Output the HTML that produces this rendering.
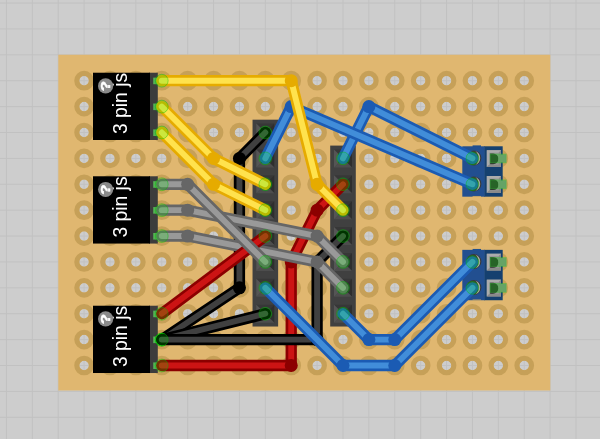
<!DOCTYPE html>
<html><head><meta charset="utf-8"><title>Breadboard</title>
<style>html,body{margin:0;padding:0;background:#cdcdcd;overflow:hidden}svg{display:block}</style>
</head><body>
<svg width="600" height="439" viewBox="0 0 600 439">
<defs><filter id="soft" x="0" y="0" width="100%" height="100%" filterUnits="userSpaceOnUse" color-interpolation-filters="sRGB"><feGaussianBlur stdDeviation="0.7" edgeMode="duplicate"/></filter></defs>
<g filter="url(#soft)">
<rect width="600" height="439" fill="#cdcdcd"/>
<path d="M6.43 0V439M32.32 0V439M58.21 0V439M84.10 0V439M109.99 0V439M135.88 0V439M161.77 0V439M187.66 0V439M213.55 0V439M239.44 0V439M265.33 0V439M291.22 0V439M317.11 0V439M343.00 0V439M368.89 0V439M394.78 0V439M420.67 0V439M446.56 0V439M472.45 0V439M498.34 0V439M524.23 0V439M550.12 0V439M576.01 0V439M0 3.05H600M0 28.94H600M0 54.83H600M0 80.72H600M0 106.61H600M0 132.50H600M0 158.39H600M0 184.28H600M0 210.17H600M0 236.06H600M0 261.95H600M0 287.84H600M0 313.73H600M0 339.62H600M0 365.51H600M0 391.40H600M0 417.29H600" stroke="#c1c1c1" stroke-width="1" fill="none"/>
<path d="M58.30 54.80h492.00v335.60h-492.00zM79.25 80.72a4.85 4.85 0 1 0 9.7 0a4.85 4.85 0 1 0 -9.7 0zM105.14 80.72a4.85 4.85 0 1 0 9.7 0a4.85 4.85 0 1 0 -9.7 0zM131.03 80.72a4.85 4.85 0 1 0 9.7 0a4.85 4.85 0 1 0 -9.7 0zM156.92 80.72a4.85 4.85 0 1 0 9.7 0a4.85 4.85 0 1 0 -9.7 0zM182.81 80.72a4.85 4.85 0 1 0 9.7 0a4.85 4.85 0 1 0 -9.7 0zM208.70 80.72a4.85 4.85 0 1 0 9.7 0a4.85 4.85 0 1 0 -9.7 0zM234.59 80.72a4.85 4.85 0 1 0 9.7 0a4.85 4.85 0 1 0 -9.7 0zM260.48 80.72a4.85 4.85 0 1 0 9.7 0a4.85 4.85 0 1 0 -9.7 0zM286.37 80.72a4.85 4.85 0 1 0 9.7 0a4.85 4.85 0 1 0 -9.7 0zM312.26 80.72a4.85 4.85 0 1 0 9.7 0a4.85 4.85 0 1 0 -9.7 0zM338.15 80.72a4.85 4.85 0 1 0 9.7 0a4.85 4.85 0 1 0 -9.7 0zM364.04 80.72a4.85 4.85 0 1 0 9.7 0a4.85 4.85 0 1 0 -9.7 0zM389.93 80.72a4.85 4.85 0 1 0 9.7 0a4.85 4.85 0 1 0 -9.7 0zM415.82 80.72a4.85 4.85 0 1 0 9.7 0a4.85 4.85 0 1 0 -9.7 0zM441.71 80.72a4.85 4.85 0 1 0 9.7 0a4.85 4.85 0 1 0 -9.7 0zM467.60 80.72a4.85 4.85 0 1 0 9.7 0a4.85 4.85 0 1 0 -9.7 0zM493.49 80.72a4.85 4.85 0 1 0 9.7 0a4.85 4.85 0 1 0 -9.7 0zM519.38 80.72a4.85 4.85 0 1 0 9.7 0a4.85 4.85 0 1 0 -9.7 0zM79.25 106.61a4.85 4.85 0 1 0 9.7 0a4.85 4.85 0 1 0 -9.7 0zM105.14 106.61a4.85 4.85 0 1 0 9.7 0a4.85 4.85 0 1 0 -9.7 0zM131.03 106.61a4.85 4.85 0 1 0 9.7 0a4.85 4.85 0 1 0 -9.7 0zM156.92 106.61a4.85 4.85 0 1 0 9.7 0a4.85 4.85 0 1 0 -9.7 0zM182.81 106.61a4.85 4.85 0 1 0 9.7 0a4.85 4.85 0 1 0 -9.7 0zM208.70 106.61a4.85 4.85 0 1 0 9.7 0a4.85 4.85 0 1 0 -9.7 0zM234.59 106.61a4.85 4.85 0 1 0 9.7 0a4.85 4.85 0 1 0 -9.7 0zM260.48 106.61a4.85 4.85 0 1 0 9.7 0a4.85 4.85 0 1 0 -9.7 0zM286.37 106.61a4.85 4.85 0 1 0 9.7 0a4.85 4.85 0 1 0 -9.7 0zM312.26 106.61a4.85 4.85 0 1 0 9.7 0a4.85 4.85 0 1 0 -9.7 0zM338.15 106.61a4.85 4.85 0 1 0 9.7 0a4.85 4.85 0 1 0 -9.7 0zM364.04 106.61a4.85 4.85 0 1 0 9.7 0a4.85 4.85 0 1 0 -9.7 0zM389.93 106.61a4.85 4.85 0 1 0 9.7 0a4.85 4.85 0 1 0 -9.7 0zM415.82 106.61a4.85 4.85 0 1 0 9.7 0a4.85 4.85 0 1 0 -9.7 0zM441.71 106.61a4.85 4.85 0 1 0 9.7 0a4.85 4.85 0 1 0 -9.7 0zM467.60 106.61a4.85 4.85 0 1 0 9.7 0a4.85 4.85 0 1 0 -9.7 0zM493.49 106.61a4.85 4.85 0 1 0 9.7 0a4.85 4.85 0 1 0 -9.7 0zM519.38 106.61a4.85 4.85 0 1 0 9.7 0a4.85 4.85 0 1 0 -9.7 0zM79.25 132.50a4.85 4.85 0 1 0 9.7 0a4.85 4.85 0 1 0 -9.7 0zM105.14 132.50a4.85 4.85 0 1 0 9.7 0a4.85 4.85 0 1 0 -9.7 0zM131.03 132.50a4.85 4.85 0 1 0 9.7 0a4.85 4.85 0 1 0 -9.7 0zM156.92 132.50a4.85 4.85 0 1 0 9.7 0a4.85 4.85 0 1 0 -9.7 0zM182.81 132.50a4.85 4.85 0 1 0 9.7 0a4.85 4.85 0 1 0 -9.7 0zM208.70 132.50a4.85 4.85 0 1 0 9.7 0a4.85 4.85 0 1 0 -9.7 0zM234.59 132.50a4.85 4.85 0 1 0 9.7 0a4.85 4.85 0 1 0 -9.7 0zM260.48 132.50a4.85 4.85 0 1 0 9.7 0a4.85 4.85 0 1 0 -9.7 0zM286.37 132.50a4.85 4.85 0 1 0 9.7 0a4.85 4.85 0 1 0 -9.7 0zM312.26 132.50a4.85 4.85 0 1 0 9.7 0a4.85 4.85 0 1 0 -9.7 0zM338.15 132.50a4.85 4.85 0 1 0 9.7 0a4.85 4.85 0 1 0 -9.7 0zM364.04 132.50a4.85 4.85 0 1 0 9.7 0a4.85 4.85 0 1 0 -9.7 0zM389.93 132.50a4.85 4.85 0 1 0 9.7 0a4.85 4.85 0 1 0 -9.7 0zM415.82 132.50a4.85 4.85 0 1 0 9.7 0a4.85 4.85 0 1 0 -9.7 0zM441.71 132.50a4.85 4.85 0 1 0 9.7 0a4.85 4.85 0 1 0 -9.7 0zM467.60 132.50a4.85 4.85 0 1 0 9.7 0a4.85 4.85 0 1 0 -9.7 0zM493.49 132.50a4.85 4.85 0 1 0 9.7 0a4.85 4.85 0 1 0 -9.7 0zM519.38 132.50a4.85 4.85 0 1 0 9.7 0a4.85 4.85 0 1 0 -9.7 0zM79.25 158.39a4.85 4.85 0 1 0 9.7 0a4.85 4.85 0 1 0 -9.7 0zM105.14 158.39a4.85 4.85 0 1 0 9.7 0a4.85 4.85 0 1 0 -9.7 0zM131.03 158.39a4.85 4.85 0 1 0 9.7 0a4.85 4.85 0 1 0 -9.7 0zM156.92 158.39a4.85 4.85 0 1 0 9.7 0a4.85 4.85 0 1 0 -9.7 0zM182.81 158.39a4.85 4.85 0 1 0 9.7 0a4.85 4.85 0 1 0 -9.7 0zM208.70 158.39a4.85 4.85 0 1 0 9.7 0a4.85 4.85 0 1 0 -9.7 0zM234.59 158.39a4.85 4.85 0 1 0 9.7 0a4.85 4.85 0 1 0 -9.7 0zM260.48 158.39a4.85 4.85 0 1 0 9.7 0a4.85 4.85 0 1 0 -9.7 0zM286.37 158.39a4.85 4.85 0 1 0 9.7 0a4.85 4.85 0 1 0 -9.7 0zM312.26 158.39a4.85 4.85 0 1 0 9.7 0a4.85 4.85 0 1 0 -9.7 0zM338.15 158.39a4.85 4.85 0 1 0 9.7 0a4.85 4.85 0 1 0 -9.7 0zM364.04 158.39a4.85 4.85 0 1 0 9.7 0a4.85 4.85 0 1 0 -9.7 0zM389.93 158.39a4.85 4.85 0 1 0 9.7 0a4.85 4.85 0 1 0 -9.7 0zM415.82 158.39a4.85 4.85 0 1 0 9.7 0a4.85 4.85 0 1 0 -9.7 0zM441.71 158.39a4.85 4.85 0 1 0 9.7 0a4.85 4.85 0 1 0 -9.7 0zM467.60 158.39a4.85 4.85 0 1 0 9.7 0a4.85 4.85 0 1 0 -9.7 0zM493.49 158.39a4.85 4.85 0 1 0 9.7 0a4.85 4.85 0 1 0 -9.7 0zM519.38 158.39a4.85 4.85 0 1 0 9.7 0a4.85 4.85 0 1 0 -9.7 0zM79.25 184.28a4.85 4.85 0 1 0 9.7 0a4.85 4.85 0 1 0 -9.7 0zM105.14 184.28a4.85 4.85 0 1 0 9.7 0a4.85 4.85 0 1 0 -9.7 0zM131.03 184.28a4.85 4.85 0 1 0 9.7 0a4.85 4.85 0 1 0 -9.7 0zM156.92 184.28a4.85 4.85 0 1 0 9.7 0a4.85 4.85 0 1 0 -9.7 0zM182.81 184.28a4.85 4.85 0 1 0 9.7 0a4.85 4.85 0 1 0 -9.7 0zM208.70 184.28a4.85 4.85 0 1 0 9.7 0a4.85 4.85 0 1 0 -9.7 0zM234.59 184.28a4.85 4.85 0 1 0 9.7 0a4.85 4.85 0 1 0 -9.7 0zM260.48 184.28a4.85 4.85 0 1 0 9.7 0a4.85 4.85 0 1 0 -9.7 0zM286.37 184.28a4.85 4.85 0 1 0 9.7 0a4.85 4.85 0 1 0 -9.7 0zM312.26 184.28a4.85 4.85 0 1 0 9.7 0a4.85 4.85 0 1 0 -9.7 0zM338.15 184.28a4.85 4.85 0 1 0 9.7 0a4.85 4.85 0 1 0 -9.7 0zM364.04 184.28a4.85 4.85 0 1 0 9.7 0a4.85 4.85 0 1 0 -9.7 0zM389.93 184.28a4.85 4.85 0 1 0 9.7 0a4.85 4.85 0 1 0 -9.7 0zM415.82 184.28a4.85 4.85 0 1 0 9.7 0a4.85 4.85 0 1 0 -9.7 0zM441.71 184.28a4.85 4.85 0 1 0 9.7 0a4.85 4.85 0 1 0 -9.7 0zM467.60 184.28a4.85 4.85 0 1 0 9.7 0a4.85 4.85 0 1 0 -9.7 0zM493.49 184.28a4.85 4.85 0 1 0 9.7 0a4.85 4.85 0 1 0 -9.7 0zM519.38 184.28a4.85 4.85 0 1 0 9.7 0a4.85 4.85 0 1 0 -9.7 0zM79.25 210.17a4.85 4.85 0 1 0 9.7 0a4.85 4.85 0 1 0 -9.7 0zM105.14 210.17a4.85 4.85 0 1 0 9.7 0a4.85 4.85 0 1 0 -9.7 0zM131.03 210.17a4.85 4.85 0 1 0 9.7 0a4.85 4.85 0 1 0 -9.7 0zM156.92 210.17a4.85 4.85 0 1 0 9.7 0a4.85 4.85 0 1 0 -9.7 0zM182.81 210.17a4.85 4.85 0 1 0 9.7 0a4.85 4.85 0 1 0 -9.7 0zM208.70 210.17a4.85 4.85 0 1 0 9.7 0a4.85 4.85 0 1 0 -9.7 0zM234.59 210.17a4.85 4.85 0 1 0 9.7 0a4.85 4.85 0 1 0 -9.7 0zM260.48 210.17a4.85 4.85 0 1 0 9.7 0a4.85 4.85 0 1 0 -9.7 0zM286.37 210.17a4.85 4.85 0 1 0 9.7 0a4.85 4.85 0 1 0 -9.7 0zM312.26 210.17a4.85 4.85 0 1 0 9.7 0a4.85 4.85 0 1 0 -9.7 0zM338.15 210.17a4.85 4.85 0 1 0 9.7 0a4.85 4.85 0 1 0 -9.7 0zM364.04 210.17a4.85 4.85 0 1 0 9.7 0a4.85 4.85 0 1 0 -9.7 0zM389.93 210.17a4.85 4.85 0 1 0 9.7 0a4.85 4.85 0 1 0 -9.7 0zM415.82 210.17a4.85 4.85 0 1 0 9.7 0a4.85 4.85 0 1 0 -9.7 0zM441.71 210.17a4.85 4.85 0 1 0 9.7 0a4.85 4.85 0 1 0 -9.7 0zM467.60 210.17a4.85 4.85 0 1 0 9.7 0a4.85 4.85 0 1 0 -9.7 0zM493.49 210.17a4.85 4.85 0 1 0 9.7 0a4.85 4.85 0 1 0 -9.7 0zM519.38 210.17a4.85 4.85 0 1 0 9.7 0a4.85 4.85 0 1 0 -9.7 0zM79.25 236.06a4.85 4.85 0 1 0 9.7 0a4.85 4.85 0 1 0 -9.7 0zM105.14 236.06a4.85 4.85 0 1 0 9.7 0a4.85 4.85 0 1 0 -9.7 0zM131.03 236.06a4.85 4.85 0 1 0 9.7 0a4.85 4.85 0 1 0 -9.7 0zM156.92 236.06a4.85 4.85 0 1 0 9.7 0a4.85 4.85 0 1 0 -9.7 0zM182.81 236.06a4.85 4.85 0 1 0 9.7 0a4.85 4.85 0 1 0 -9.7 0zM208.70 236.06a4.85 4.85 0 1 0 9.7 0a4.85 4.85 0 1 0 -9.7 0zM234.59 236.06a4.85 4.85 0 1 0 9.7 0a4.85 4.85 0 1 0 -9.7 0zM260.48 236.06a4.85 4.85 0 1 0 9.7 0a4.85 4.85 0 1 0 -9.7 0zM286.37 236.06a4.85 4.85 0 1 0 9.7 0a4.85 4.85 0 1 0 -9.7 0zM312.26 236.06a4.85 4.85 0 1 0 9.7 0a4.85 4.85 0 1 0 -9.7 0zM338.15 236.06a4.85 4.85 0 1 0 9.7 0a4.85 4.85 0 1 0 -9.7 0zM364.04 236.06a4.85 4.85 0 1 0 9.7 0a4.85 4.85 0 1 0 -9.7 0zM389.93 236.06a4.85 4.85 0 1 0 9.7 0a4.85 4.85 0 1 0 -9.7 0zM415.82 236.06a4.85 4.85 0 1 0 9.7 0a4.85 4.85 0 1 0 -9.7 0zM441.71 236.06a4.85 4.85 0 1 0 9.7 0a4.85 4.85 0 1 0 -9.7 0zM467.60 236.06a4.85 4.85 0 1 0 9.7 0a4.85 4.85 0 1 0 -9.7 0zM493.49 236.06a4.85 4.85 0 1 0 9.7 0a4.85 4.85 0 1 0 -9.7 0zM519.38 236.06a4.85 4.85 0 1 0 9.7 0a4.85 4.85 0 1 0 -9.7 0zM79.25 261.95a4.85 4.85 0 1 0 9.7 0a4.85 4.85 0 1 0 -9.7 0zM105.14 261.95a4.85 4.85 0 1 0 9.7 0a4.85 4.85 0 1 0 -9.7 0zM131.03 261.95a4.85 4.85 0 1 0 9.7 0a4.85 4.85 0 1 0 -9.7 0zM156.92 261.95a4.85 4.85 0 1 0 9.7 0a4.85 4.85 0 1 0 -9.7 0zM182.81 261.95a4.85 4.85 0 1 0 9.7 0a4.85 4.85 0 1 0 -9.7 0zM208.70 261.95a4.85 4.85 0 1 0 9.7 0a4.85 4.85 0 1 0 -9.7 0zM234.59 261.95a4.85 4.85 0 1 0 9.7 0a4.85 4.85 0 1 0 -9.7 0zM260.48 261.95a4.85 4.85 0 1 0 9.7 0a4.85 4.85 0 1 0 -9.7 0zM286.37 261.95a4.85 4.85 0 1 0 9.7 0a4.85 4.85 0 1 0 -9.7 0zM312.26 261.95a4.85 4.85 0 1 0 9.7 0a4.85 4.85 0 1 0 -9.7 0zM338.15 261.95a4.85 4.85 0 1 0 9.7 0a4.85 4.85 0 1 0 -9.7 0zM364.04 261.95a4.85 4.85 0 1 0 9.7 0a4.85 4.85 0 1 0 -9.7 0zM389.93 261.95a4.85 4.85 0 1 0 9.7 0a4.85 4.85 0 1 0 -9.7 0zM415.82 261.95a4.85 4.85 0 1 0 9.7 0a4.85 4.85 0 1 0 -9.7 0zM441.71 261.95a4.85 4.85 0 1 0 9.7 0a4.85 4.85 0 1 0 -9.7 0zM467.60 261.95a4.85 4.85 0 1 0 9.7 0a4.85 4.85 0 1 0 -9.7 0zM493.49 261.95a4.85 4.85 0 1 0 9.7 0a4.85 4.85 0 1 0 -9.7 0zM519.38 261.95a4.85 4.85 0 1 0 9.7 0a4.85 4.85 0 1 0 -9.7 0zM79.25 287.84a4.85 4.85 0 1 0 9.7 0a4.85 4.85 0 1 0 -9.7 0zM105.14 287.84a4.85 4.85 0 1 0 9.7 0a4.85 4.85 0 1 0 -9.7 0zM131.03 287.84a4.85 4.85 0 1 0 9.7 0a4.85 4.85 0 1 0 -9.7 0zM156.92 287.84a4.85 4.85 0 1 0 9.7 0a4.85 4.85 0 1 0 -9.7 0zM182.81 287.84a4.85 4.85 0 1 0 9.7 0a4.85 4.85 0 1 0 -9.7 0zM208.70 287.84a4.85 4.85 0 1 0 9.7 0a4.85 4.85 0 1 0 -9.7 0zM234.59 287.84a4.85 4.85 0 1 0 9.7 0a4.85 4.85 0 1 0 -9.7 0zM260.48 287.84a4.85 4.85 0 1 0 9.7 0a4.85 4.85 0 1 0 -9.7 0zM286.37 287.84a4.85 4.85 0 1 0 9.7 0a4.85 4.85 0 1 0 -9.7 0zM312.26 287.84a4.85 4.85 0 1 0 9.7 0a4.85 4.85 0 1 0 -9.7 0zM338.15 287.84a4.85 4.85 0 1 0 9.7 0a4.85 4.85 0 1 0 -9.7 0zM364.04 287.84a4.85 4.85 0 1 0 9.7 0a4.85 4.85 0 1 0 -9.7 0zM389.93 287.84a4.85 4.85 0 1 0 9.7 0a4.85 4.85 0 1 0 -9.7 0zM415.82 287.84a4.85 4.85 0 1 0 9.7 0a4.85 4.85 0 1 0 -9.7 0zM441.71 287.84a4.85 4.85 0 1 0 9.7 0a4.85 4.85 0 1 0 -9.7 0zM467.60 287.84a4.85 4.85 0 1 0 9.7 0a4.85 4.85 0 1 0 -9.7 0zM493.49 287.84a4.85 4.85 0 1 0 9.7 0a4.85 4.85 0 1 0 -9.7 0zM519.38 287.84a4.85 4.85 0 1 0 9.7 0a4.85 4.85 0 1 0 -9.7 0zM79.25 313.73a4.85 4.85 0 1 0 9.7 0a4.85 4.85 0 1 0 -9.7 0zM105.14 313.73a4.85 4.85 0 1 0 9.7 0a4.85 4.85 0 1 0 -9.7 0zM131.03 313.73a4.85 4.85 0 1 0 9.7 0a4.85 4.85 0 1 0 -9.7 0zM156.92 313.73a4.85 4.85 0 1 0 9.7 0a4.85 4.85 0 1 0 -9.7 0zM182.81 313.73a4.85 4.85 0 1 0 9.7 0a4.85 4.85 0 1 0 -9.7 0zM208.70 313.73a4.85 4.85 0 1 0 9.7 0a4.85 4.85 0 1 0 -9.7 0zM234.59 313.73a4.85 4.85 0 1 0 9.7 0a4.85 4.85 0 1 0 -9.7 0zM260.48 313.73a4.85 4.85 0 1 0 9.7 0a4.85 4.85 0 1 0 -9.7 0zM286.37 313.73a4.85 4.85 0 1 0 9.7 0a4.85 4.85 0 1 0 -9.7 0zM312.26 313.73a4.85 4.85 0 1 0 9.7 0a4.85 4.85 0 1 0 -9.7 0zM338.15 313.73a4.85 4.85 0 1 0 9.7 0a4.85 4.85 0 1 0 -9.7 0zM364.04 313.73a4.85 4.85 0 1 0 9.7 0a4.85 4.85 0 1 0 -9.7 0zM389.93 313.73a4.85 4.85 0 1 0 9.7 0a4.85 4.85 0 1 0 -9.7 0zM415.82 313.73a4.85 4.85 0 1 0 9.7 0a4.85 4.85 0 1 0 -9.7 0zM441.71 313.73a4.85 4.85 0 1 0 9.7 0a4.85 4.85 0 1 0 -9.7 0zM467.60 313.73a4.85 4.85 0 1 0 9.7 0a4.85 4.85 0 1 0 -9.7 0zM493.49 313.73a4.85 4.85 0 1 0 9.7 0a4.85 4.85 0 1 0 -9.7 0zM519.38 313.73a4.85 4.85 0 1 0 9.7 0a4.85 4.85 0 1 0 -9.7 0zM79.25 339.62a4.85 4.85 0 1 0 9.7 0a4.85 4.85 0 1 0 -9.7 0zM105.14 339.62a4.85 4.85 0 1 0 9.7 0a4.85 4.85 0 1 0 -9.7 0zM131.03 339.62a4.85 4.85 0 1 0 9.7 0a4.85 4.85 0 1 0 -9.7 0zM156.92 339.62a4.85 4.85 0 1 0 9.7 0a4.85 4.85 0 1 0 -9.7 0zM182.81 339.62a4.85 4.85 0 1 0 9.7 0a4.85 4.85 0 1 0 -9.7 0zM208.70 339.62a4.85 4.85 0 1 0 9.7 0a4.85 4.85 0 1 0 -9.7 0zM234.59 339.62a4.85 4.85 0 1 0 9.7 0a4.85 4.85 0 1 0 -9.7 0zM260.48 339.62a4.85 4.85 0 1 0 9.7 0a4.85 4.85 0 1 0 -9.7 0zM286.37 339.62a4.85 4.85 0 1 0 9.7 0a4.85 4.85 0 1 0 -9.7 0zM312.26 339.62a4.85 4.85 0 1 0 9.7 0a4.85 4.85 0 1 0 -9.7 0zM338.15 339.62a4.85 4.85 0 1 0 9.7 0a4.85 4.85 0 1 0 -9.7 0zM364.04 339.62a4.85 4.85 0 1 0 9.7 0a4.85 4.85 0 1 0 -9.7 0zM389.93 339.62a4.85 4.85 0 1 0 9.7 0a4.85 4.85 0 1 0 -9.7 0zM415.82 339.62a4.85 4.85 0 1 0 9.7 0a4.85 4.85 0 1 0 -9.7 0zM441.71 339.62a4.85 4.85 0 1 0 9.7 0a4.85 4.85 0 1 0 -9.7 0zM467.60 339.62a4.85 4.85 0 1 0 9.7 0a4.85 4.85 0 1 0 -9.7 0zM493.49 339.62a4.85 4.85 0 1 0 9.7 0a4.85 4.85 0 1 0 -9.7 0zM519.38 339.62a4.85 4.85 0 1 0 9.7 0a4.85 4.85 0 1 0 -9.7 0zM79.25 365.51a4.85 4.85 0 1 0 9.7 0a4.85 4.85 0 1 0 -9.7 0zM105.14 365.51a4.85 4.85 0 1 0 9.7 0a4.85 4.85 0 1 0 -9.7 0zM131.03 365.51a4.85 4.85 0 1 0 9.7 0a4.85 4.85 0 1 0 -9.7 0zM156.92 365.51a4.85 4.85 0 1 0 9.7 0a4.85 4.85 0 1 0 -9.7 0zM182.81 365.51a4.85 4.85 0 1 0 9.7 0a4.85 4.85 0 1 0 -9.7 0zM208.70 365.51a4.85 4.85 0 1 0 9.7 0a4.85 4.85 0 1 0 -9.7 0zM234.59 365.51a4.85 4.85 0 1 0 9.7 0a4.85 4.85 0 1 0 -9.7 0zM260.48 365.51a4.85 4.85 0 1 0 9.7 0a4.85 4.85 0 1 0 -9.7 0zM286.37 365.51a4.85 4.85 0 1 0 9.7 0a4.85 4.85 0 1 0 -9.7 0zM312.26 365.51a4.85 4.85 0 1 0 9.7 0a4.85 4.85 0 1 0 -9.7 0zM338.15 365.51a4.85 4.85 0 1 0 9.7 0a4.85 4.85 0 1 0 -9.7 0zM364.04 365.51a4.85 4.85 0 1 0 9.7 0a4.85 4.85 0 1 0 -9.7 0zM389.93 365.51a4.85 4.85 0 1 0 9.7 0a4.85 4.85 0 1 0 -9.7 0zM415.82 365.51a4.85 4.85 0 1 0 9.7 0a4.85 4.85 0 1 0 -9.7 0zM441.71 365.51a4.85 4.85 0 1 0 9.7 0a4.85 4.85 0 1 0 -9.7 0zM467.60 365.51a4.85 4.85 0 1 0 9.7 0a4.85 4.85 0 1 0 -9.7 0zM493.49 365.51a4.85 4.85 0 1 0 9.7 0a4.85 4.85 0 1 0 -9.7 0zM519.38 365.51a4.85 4.85 0 1 0 9.7 0a4.85 4.85 0 1 0 -9.7 0z" fill="#e0b770" fill-rule="evenodd"/>
<circle cx="84.10" cy="80.72" r="7.3" fill="none" stroke="#c6a058" stroke-width="5.1"/>
<circle cx="109.99" cy="80.72" r="7.3" fill="none" stroke="#c6a058" stroke-width="5.1"/>
<circle cx="135.88" cy="80.72" r="7.3" fill="none" stroke="#c6a058" stroke-width="5.1"/>
<circle cx="161.77" cy="80.72" r="7.3" fill="none" stroke="#c6a058" stroke-width="5.1"/>
<circle cx="187.66" cy="80.72" r="7.3" fill="none" stroke="#c6a058" stroke-width="5.1"/>
<circle cx="213.55" cy="80.72" r="7.3" fill="none" stroke="#c6a058" stroke-width="5.1"/>
<circle cx="239.44" cy="80.72" r="7.3" fill="none" stroke="#c6a058" stroke-width="5.1"/>
<circle cx="265.33" cy="80.72" r="7.3" fill="none" stroke="#c6a058" stroke-width="5.1"/>
<circle cx="291.22" cy="80.72" r="7.3" fill="none" stroke="#c6a058" stroke-width="5.1"/>
<circle cx="317.11" cy="80.72" r="7.3" fill="none" stroke="#c6a058" stroke-width="5.1"/>
<circle cx="343.00" cy="80.72" r="7.3" fill="none" stroke="#c6a058" stroke-width="5.1"/>
<circle cx="368.89" cy="80.72" r="7.3" fill="none" stroke="#c6a058" stroke-width="5.1"/>
<circle cx="394.78" cy="80.72" r="7.3" fill="none" stroke="#c6a058" stroke-width="5.1"/>
<circle cx="420.67" cy="80.72" r="7.3" fill="none" stroke="#c6a058" stroke-width="5.1"/>
<circle cx="446.56" cy="80.72" r="7.3" fill="none" stroke="#c6a058" stroke-width="5.1"/>
<circle cx="472.45" cy="80.72" r="7.3" fill="none" stroke="#c6a058" stroke-width="5.1"/>
<circle cx="498.34" cy="80.72" r="7.3" fill="none" stroke="#c6a058" stroke-width="5.1"/>
<circle cx="524.23" cy="80.72" r="7.3" fill="none" stroke="#c6a058" stroke-width="5.1"/>
<circle cx="84.10" cy="106.61" r="7.3" fill="none" stroke="#c6a058" stroke-width="5.1"/>
<circle cx="109.99" cy="106.61" r="7.3" fill="none" stroke="#c6a058" stroke-width="5.1"/>
<circle cx="135.88" cy="106.61" r="7.3" fill="none" stroke="#c6a058" stroke-width="5.1"/>
<circle cx="161.77" cy="106.61" r="7.3" fill="none" stroke="#c6a058" stroke-width="5.1"/>
<circle cx="187.66" cy="106.61" r="7.3" fill="none" stroke="#c6a058" stroke-width="5.1"/>
<circle cx="213.55" cy="106.61" r="7.3" fill="none" stroke="#c6a058" stroke-width="5.1"/>
<circle cx="239.44" cy="106.61" r="7.3" fill="none" stroke="#c6a058" stroke-width="5.1"/>
<circle cx="265.33" cy="106.61" r="7.3" fill="none" stroke="#c6a058" stroke-width="5.1"/>
<circle cx="291.22" cy="106.61" r="7.3" fill="none" stroke="#c6a058" stroke-width="5.1"/>
<circle cx="317.11" cy="106.61" r="7.3" fill="none" stroke="#c6a058" stroke-width="5.1"/>
<circle cx="343.00" cy="106.61" r="7.3" fill="none" stroke="#c6a058" stroke-width="5.1"/>
<circle cx="368.89" cy="106.61" r="7.3" fill="none" stroke="#c6a058" stroke-width="5.1"/>
<circle cx="394.78" cy="106.61" r="7.3" fill="none" stroke="#c6a058" stroke-width="5.1"/>
<circle cx="420.67" cy="106.61" r="7.3" fill="none" stroke="#c6a058" stroke-width="5.1"/>
<circle cx="446.56" cy="106.61" r="7.3" fill="none" stroke="#c6a058" stroke-width="5.1"/>
<circle cx="472.45" cy="106.61" r="7.3" fill="none" stroke="#c6a058" stroke-width="5.1"/>
<circle cx="498.34" cy="106.61" r="7.3" fill="none" stroke="#c6a058" stroke-width="5.1"/>
<circle cx="524.23" cy="106.61" r="7.3" fill="none" stroke="#c6a058" stroke-width="5.1"/>
<circle cx="84.10" cy="132.50" r="7.3" fill="none" stroke="#c6a058" stroke-width="5.1"/>
<circle cx="109.99" cy="132.50" r="7.3" fill="none" stroke="#c6a058" stroke-width="5.1"/>
<circle cx="135.88" cy="132.50" r="7.3" fill="none" stroke="#c6a058" stroke-width="5.1"/>
<circle cx="161.77" cy="132.50" r="7.3" fill="none" stroke="#c6a058" stroke-width="5.1"/>
<circle cx="187.66" cy="132.50" r="7.3" fill="none" stroke="#c6a058" stroke-width="5.1"/>
<circle cx="213.55" cy="132.50" r="7.3" fill="none" stroke="#c6a058" stroke-width="5.1"/>
<circle cx="239.44" cy="132.50" r="7.3" fill="none" stroke="#c6a058" stroke-width="5.1"/>
<circle cx="265.33" cy="132.50" r="7.3" fill="none" stroke="#c6a058" stroke-width="5.1"/>
<circle cx="291.22" cy="132.50" r="7.3" fill="none" stroke="#c6a058" stroke-width="5.1"/>
<circle cx="317.11" cy="132.50" r="7.3" fill="none" stroke="#c6a058" stroke-width="5.1"/>
<circle cx="343.00" cy="132.50" r="7.3" fill="none" stroke="#c6a058" stroke-width="5.1"/>
<circle cx="368.89" cy="132.50" r="7.3" fill="none" stroke="#c6a058" stroke-width="5.1"/>
<circle cx="394.78" cy="132.50" r="7.3" fill="none" stroke="#c6a058" stroke-width="5.1"/>
<circle cx="420.67" cy="132.50" r="7.3" fill="none" stroke="#c6a058" stroke-width="5.1"/>
<circle cx="446.56" cy="132.50" r="7.3" fill="none" stroke="#c6a058" stroke-width="5.1"/>
<circle cx="472.45" cy="132.50" r="7.3" fill="none" stroke="#c6a058" stroke-width="5.1"/>
<circle cx="498.34" cy="132.50" r="7.3" fill="none" stroke="#c6a058" stroke-width="5.1"/>
<circle cx="524.23" cy="132.50" r="7.3" fill="none" stroke="#c6a058" stroke-width="5.1"/>
<circle cx="84.10" cy="158.39" r="7.3" fill="none" stroke="#c6a058" stroke-width="5.1"/>
<circle cx="109.99" cy="158.39" r="7.3" fill="none" stroke="#c6a058" stroke-width="5.1"/>
<circle cx="135.88" cy="158.39" r="7.3" fill="none" stroke="#c6a058" stroke-width="5.1"/>
<circle cx="161.77" cy="158.39" r="7.3" fill="none" stroke="#c6a058" stroke-width="5.1"/>
<circle cx="187.66" cy="158.39" r="7.3" fill="none" stroke="#c6a058" stroke-width="5.1"/>
<circle cx="213.55" cy="158.39" r="7.3" fill="none" stroke="#c6a058" stroke-width="5.1"/>
<circle cx="239.44" cy="158.39" r="7.3" fill="none" stroke="#c6a058" stroke-width="5.1"/>
<circle cx="265.33" cy="158.39" r="7.3" fill="none" stroke="#c6a058" stroke-width="5.1"/>
<circle cx="291.22" cy="158.39" r="7.3" fill="none" stroke="#c6a058" stroke-width="5.1"/>
<circle cx="317.11" cy="158.39" r="7.3" fill="none" stroke="#c6a058" stroke-width="5.1"/>
<circle cx="343.00" cy="158.39" r="7.3" fill="none" stroke="#c6a058" stroke-width="5.1"/>
<circle cx="368.89" cy="158.39" r="7.3" fill="none" stroke="#c6a058" stroke-width="5.1"/>
<circle cx="394.78" cy="158.39" r="7.3" fill="none" stroke="#c6a058" stroke-width="5.1"/>
<circle cx="420.67" cy="158.39" r="7.3" fill="none" stroke="#c6a058" stroke-width="5.1"/>
<circle cx="446.56" cy="158.39" r="7.3" fill="none" stroke="#c6a058" stroke-width="5.1"/>
<circle cx="472.45" cy="158.39" r="7.3" fill="none" stroke="#c6a058" stroke-width="5.1"/>
<circle cx="498.34" cy="158.39" r="7.3" fill="none" stroke="#c6a058" stroke-width="5.1"/>
<circle cx="524.23" cy="158.39" r="7.3" fill="none" stroke="#c6a058" stroke-width="5.1"/>
<circle cx="84.10" cy="184.28" r="7.3" fill="none" stroke="#c6a058" stroke-width="5.1"/>
<circle cx="109.99" cy="184.28" r="7.3" fill="none" stroke="#c6a058" stroke-width="5.1"/>
<circle cx="135.88" cy="184.28" r="7.3" fill="none" stroke="#c6a058" stroke-width="5.1"/>
<circle cx="161.77" cy="184.28" r="7.3" fill="none" stroke="#c6a058" stroke-width="5.1"/>
<circle cx="187.66" cy="184.28" r="7.3" fill="none" stroke="#c6a058" stroke-width="5.1"/>
<circle cx="213.55" cy="184.28" r="7.3" fill="none" stroke="#c6a058" stroke-width="5.1"/>
<circle cx="239.44" cy="184.28" r="7.3" fill="none" stroke="#c6a058" stroke-width="5.1"/>
<circle cx="265.33" cy="184.28" r="7.3" fill="none" stroke="#c6a058" stroke-width="5.1"/>
<circle cx="291.22" cy="184.28" r="7.3" fill="none" stroke="#c6a058" stroke-width="5.1"/>
<circle cx="317.11" cy="184.28" r="7.3" fill="none" stroke="#c6a058" stroke-width="5.1"/>
<circle cx="343.00" cy="184.28" r="7.3" fill="none" stroke="#c6a058" stroke-width="5.1"/>
<circle cx="368.89" cy="184.28" r="7.3" fill="none" stroke="#c6a058" stroke-width="5.1"/>
<circle cx="394.78" cy="184.28" r="7.3" fill="none" stroke="#c6a058" stroke-width="5.1"/>
<circle cx="420.67" cy="184.28" r="7.3" fill="none" stroke="#c6a058" stroke-width="5.1"/>
<circle cx="446.56" cy="184.28" r="7.3" fill="none" stroke="#c6a058" stroke-width="5.1"/>
<circle cx="472.45" cy="184.28" r="7.3" fill="none" stroke="#c6a058" stroke-width="5.1"/>
<circle cx="498.34" cy="184.28" r="7.3" fill="none" stroke="#c6a058" stroke-width="5.1"/>
<circle cx="524.23" cy="184.28" r="7.3" fill="none" stroke="#c6a058" stroke-width="5.1"/>
<circle cx="84.10" cy="210.17" r="7.3" fill="none" stroke="#c6a058" stroke-width="5.1"/>
<circle cx="109.99" cy="210.17" r="7.3" fill="none" stroke="#c6a058" stroke-width="5.1"/>
<circle cx="135.88" cy="210.17" r="7.3" fill="none" stroke="#c6a058" stroke-width="5.1"/>
<circle cx="161.77" cy="210.17" r="7.3" fill="none" stroke="#c6a058" stroke-width="5.1"/>
<circle cx="187.66" cy="210.17" r="7.3" fill="none" stroke="#c6a058" stroke-width="5.1"/>
<circle cx="213.55" cy="210.17" r="7.3" fill="none" stroke="#c6a058" stroke-width="5.1"/>
<circle cx="239.44" cy="210.17" r="7.3" fill="none" stroke="#c6a058" stroke-width="5.1"/>
<circle cx="265.33" cy="210.17" r="7.3" fill="none" stroke="#c6a058" stroke-width="5.1"/>
<circle cx="291.22" cy="210.17" r="7.3" fill="none" stroke="#c6a058" stroke-width="5.1"/>
<circle cx="317.11" cy="210.17" r="7.3" fill="none" stroke="#c6a058" stroke-width="5.1"/>
<circle cx="343.00" cy="210.17" r="7.3" fill="none" stroke="#c6a058" stroke-width="5.1"/>
<circle cx="368.89" cy="210.17" r="7.3" fill="none" stroke="#c6a058" stroke-width="5.1"/>
<circle cx="394.78" cy="210.17" r="7.3" fill="none" stroke="#c6a058" stroke-width="5.1"/>
<circle cx="420.67" cy="210.17" r="7.3" fill="none" stroke="#c6a058" stroke-width="5.1"/>
<circle cx="446.56" cy="210.17" r="7.3" fill="none" stroke="#c6a058" stroke-width="5.1"/>
<circle cx="472.45" cy="210.17" r="7.3" fill="none" stroke="#c6a058" stroke-width="5.1"/>
<circle cx="498.34" cy="210.17" r="7.3" fill="none" stroke="#c6a058" stroke-width="5.1"/>
<circle cx="524.23" cy="210.17" r="7.3" fill="none" stroke="#c6a058" stroke-width="5.1"/>
<circle cx="84.10" cy="236.06" r="7.3" fill="none" stroke="#c6a058" stroke-width="5.1"/>
<circle cx="109.99" cy="236.06" r="7.3" fill="none" stroke="#c6a058" stroke-width="5.1"/>
<circle cx="135.88" cy="236.06" r="7.3" fill="none" stroke="#c6a058" stroke-width="5.1"/>
<circle cx="161.77" cy="236.06" r="7.3" fill="none" stroke="#c6a058" stroke-width="5.1"/>
<circle cx="187.66" cy="236.06" r="7.3" fill="none" stroke="#c6a058" stroke-width="5.1"/>
<circle cx="213.55" cy="236.06" r="7.3" fill="none" stroke="#c6a058" stroke-width="5.1"/>
<circle cx="239.44" cy="236.06" r="7.3" fill="none" stroke="#c6a058" stroke-width="5.1"/>
<circle cx="265.33" cy="236.06" r="7.3" fill="none" stroke="#c6a058" stroke-width="5.1"/>
<circle cx="291.22" cy="236.06" r="7.3" fill="none" stroke="#c6a058" stroke-width="5.1"/>
<circle cx="317.11" cy="236.06" r="7.3" fill="none" stroke="#c6a058" stroke-width="5.1"/>
<circle cx="343.00" cy="236.06" r="7.3" fill="none" stroke="#c6a058" stroke-width="5.1"/>
<circle cx="368.89" cy="236.06" r="7.3" fill="none" stroke="#c6a058" stroke-width="5.1"/>
<circle cx="394.78" cy="236.06" r="7.3" fill="none" stroke="#c6a058" stroke-width="5.1"/>
<circle cx="420.67" cy="236.06" r="7.3" fill="none" stroke="#c6a058" stroke-width="5.1"/>
<circle cx="446.56" cy="236.06" r="7.3" fill="none" stroke="#c6a058" stroke-width="5.1"/>
<circle cx="472.45" cy="236.06" r="7.3" fill="none" stroke="#c6a058" stroke-width="5.1"/>
<circle cx="498.34" cy="236.06" r="7.3" fill="none" stroke="#c6a058" stroke-width="5.1"/>
<circle cx="524.23" cy="236.06" r="7.3" fill="none" stroke="#c6a058" stroke-width="5.1"/>
<circle cx="84.10" cy="261.95" r="7.3" fill="none" stroke="#c6a058" stroke-width="5.1"/>
<circle cx="109.99" cy="261.95" r="7.3" fill="none" stroke="#c6a058" stroke-width="5.1"/>
<circle cx="135.88" cy="261.95" r="7.3" fill="none" stroke="#c6a058" stroke-width="5.1"/>
<circle cx="161.77" cy="261.95" r="7.3" fill="none" stroke="#c6a058" stroke-width="5.1"/>
<circle cx="187.66" cy="261.95" r="7.3" fill="none" stroke="#c6a058" stroke-width="5.1"/>
<circle cx="213.55" cy="261.95" r="7.3" fill="none" stroke="#c6a058" stroke-width="5.1"/>
<circle cx="239.44" cy="261.95" r="7.3" fill="none" stroke="#c6a058" stroke-width="5.1"/>
<circle cx="265.33" cy="261.95" r="7.3" fill="none" stroke="#c6a058" stroke-width="5.1"/>
<circle cx="291.22" cy="261.95" r="7.3" fill="none" stroke="#c6a058" stroke-width="5.1"/>
<circle cx="317.11" cy="261.95" r="7.3" fill="none" stroke="#c6a058" stroke-width="5.1"/>
<circle cx="343.00" cy="261.95" r="7.3" fill="none" stroke="#c6a058" stroke-width="5.1"/>
<circle cx="368.89" cy="261.95" r="7.3" fill="none" stroke="#c6a058" stroke-width="5.1"/>
<circle cx="394.78" cy="261.95" r="7.3" fill="none" stroke="#c6a058" stroke-width="5.1"/>
<circle cx="420.67" cy="261.95" r="7.3" fill="none" stroke="#c6a058" stroke-width="5.1"/>
<circle cx="446.56" cy="261.95" r="7.3" fill="none" stroke="#c6a058" stroke-width="5.1"/>
<circle cx="472.45" cy="261.95" r="7.3" fill="none" stroke="#c6a058" stroke-width="5.1"/>
<circle cx="498.34" cy="261.95" r="7.3" fill="none" stroke="#c6a058" stroke-width="5.1"/>
<circle cx="524.23" cy="261.95" r="7.3" fill="none" stroke="#c6a058" stroke-width="5.1"/>
<circle cx="84.10" cy="287.84" r="7.3" fill="none" stroke="#c6a058" stroke-width="5.1"/>
<circle cx="109.99" cy="287.84" r="7.3" fill="none" stroke="#c6a058" stroke-width="5.1"/>
<circle cx="135.88" cy="287.84" r="7.3" fill="none" stroke="#c6a058" stroke-width="5.1"/>
<circle cx="161.77" cy="287.84" r="7.3" fill="none" stroke="#c6a058" stroke-width="5.1"/>
<circle cx="187.66" cy="287.84" r="7.3" fill="none" stroke="#c6a058" stroke-width="5.1"/>
<circle cx="213.55" cy="287.84" r="7.3" fill="none" stroke="#c6a058" stroke-width="5.1"/>
<circle cx="239.44" cy="287.84" r="7.3" fill="none" stroke="#c6a058" stroke-width="5.1"/>
<circle cx="265.33" cy="287.84" r="7.3" fill="none" stroke="#c6a058" stroke-width="5.1"/>
<circle cx="291.22" cy="287.84" r="7.3" fill="none" stroke="#c6a058" stroke-width="5.1"/>
<circle cx="317.11" cy="287.84" r="7.3" fill="none" stroke="#c6a058" stroke-width="5.1"/>
<circle cx="343.00" cy="287.84" r="7.3" fill="none" stroke="#c6a058" stroke-width="5.1"/>
<circle cx="368.89" cy="287.84" r="7.3" fill="none" stroke="#c6a058" stroke-width="5.1"/>
<circle cx="394.78" cy="287.84" r="7.3" fill="none" stroke="#c6a058" stroke-width="5.1"/>
<circle cx="420.67" cy="287.84" r="7.3" fill="none" stroke="#c6a058" stroke-width="5.1"/>
<circle cx="446.56" cy="287.84" r="7.3" fill="none" stroke="#c6a058" stroke-width="5.1"/>
<circle cx="472.45" cy="287.84" r="7.3" fill="none" stroke="#c6a058" stroke-width="5.1"/>
<circle cx="498.34" cy="287.84" r="7.3" fill="none" stroke="#c6a058" stroke-width="5.1"/>
<circle cx="524.23" cy="287.84" r="7.3" fill="none" stroke="#c6a058" stroke-width="5.1"/>
<circle cx="84.10" cy="313.73" r="7.3" fill="none" stroke="#c6a058" stroke-width="5.1"/>
<circle cx="109.99" cy="313.73" r="7.3" fill="none" stroke="#c6a058" stroke-width="5.1"/>
<circle cx="135.88" cy="313.73" r="7.3" fill="none" stroke="#c6a058" stroke-width="5.1"/>
<circle cx="161.77" cy="313.73" r="7.3" fill="none" stroke="#c6a058" stroke-width="5.1"/>
<circle cx="187.66" cy="313.73" r="7.3" fill="none" stroke="#c6a058" stroke-width="5.1"/>
<circle cx="213.55" cy="313.73" r="7.3" fill="none" stroke="#c6a058" stroke-width="5.1"/>
<circle cx="239.44" cy="313.73" r="7.3" fill="none" stroke="#c6a058" stroke-width="5.1"/>
<circle cx="265.33" cy="313.73" r="7.3" fill="none" stroke="#c6a058" stroke-width="5.1"/>
<circle cx="291.22" cy="313.73" r="7.3" fill="none" stroke="#c6a058" stroke-width="5.1"/>
<circle cx="317.11" cy="313.73" r="7.3" fill="none" stroke="#c6a058" stroke-width="5.1"/>
<circle cx="343.00" cy="313.73" r="7.3" fill="none" stroke="#c6a058" stroke-width="5.1"/>
<circle cx="368.89" cy="313.73" r="7.3" fill="none" stroke="#c6a058" stroke-width="5.1"/>
<circle cx="394.78" cy="313.73" r="7.3" fill="none" stroke="#c6a058" stroke-width="5.1"/>
<circle cx="420.67" cy="313.73" r="7.3" fill="none" stroke="#c6a058" stroke-width="5.1"/>
<circle cx="446.56" cy="313.73" r="7.3" fill="none" stroke="#c6a058" stroke-width="5.1"/>
<circle cx="472.45" cy="313.73" r="7.3" fill="none" stroke="#c6a058" stroke-width="5.1"/>
<circle cx="498.34" cy="313.73" r="7.3" fill="none" stroke="#c6a058" stroke-width="5.1"/>
<circle cx="524.23" cy="313.73" r="7.3" fill="none" stroke="#c6a058" stroke-width="5.1"/>
<circle cx="84.10" cy="339.62" r="7.3" fill="none" stroke="#c6a058" stroke-width="5.1"/>
<circle cx="109.99" cy="339.62" r="7.3" fill="none" stroke="#c6a058" stroke-width="5.1"/>
<circle cx="135.88" cy="339.62" r="7.3" fill="none" stroke="#c6a058" stroke-width="5.1"/>
<circle cx="161.77" cy="339.62" r="7.3" fill="none" stroke="#c6a058" stroke-width="5.1"/>
<circle cx="187.66" cy="339.62" r="7.3" fill="none" stroke="#c6a058" stroke-width="5.1"/>
<circle cx="213.55" cy="339.62" r="7.3" fill="none" stroke="#c6a058" stroke-width="5.1"/>
<circle cx="239.44" cy="339.62" r="7.3" fill="none" stroke="#c6a058" stroke-width="5.1"/>
<circle cx="265.33" cy="339.62" r="7.3" fill="none" stroke="#c6a058" stroke-width="5.1"/>
<circle cx="291.22" cy="339.62" r="7.3" fill="none" stroke="#c6a058" stroke-width="5.1"/>
<circle cx="317.11" cy="339.62" r="7.3" fill="none" stroke="#c6a058" stroke-width="5.1"/>
<circle cx="343.00" cy="339.62" r="7.3" fill="none" stroke="#c6a058" stroke-width="5.1"/>
<circle cx="368.89" cy="339.62" r="7.3" fill="none" stroke="#c6a058" stroke-width="5.1"/>
<circle cx="394.78" cy="339.62" r="7.3" fill="none" stroke="#c6a058" stroke-width="5.1"/>
<circle cx="420.67" cy="339.62" r="7.3" fill="none" stroke="#c6a058" stroke-width="5.1"/>
<circle cx="446.56" cy="339.62" r="7.3" fill="none" stroke="#c6a058" stroke-width="5.1"/>
<circle cx="472.45" cy="339.62" r="7.3" fill="none" stroke="#c6a058" stroke-width="5.1"/>
<circle cx="498.34" cy="339.62" r="7.3" fill="none" stroke="#c6a058" stroke-width="5.1"/>
<circle cx="524.23" cy="339.62" r="7.3" fill="none" stroke="#c6a058" stroke-width="5.1"/>
<circle cx="84.10" cy="365.51" r="7.3" fill="none" stroke="#c6a058" stroke-width="5.1"/>
<circle cx="109.99" cy="365.51" r="7.3" fill="none" stroke="#c6a058" stroke-width="5.1"/>
<circle cx="135.88" cy="365.51" r="7.3" fill="none" stroke="#c6a058" stroke-width="5.1"/>
<circle cx="161.77" cy="365.51" r="7.3" fill="none" stroke="#c6a058" stroke-width="5.1"/>
<circle cx="187.66" cy="365.51" r="7.3" fill="none" stroke="#c6a058" stroke-width="5.1"/>
<circle cx="213.55" cy="365.51" r="7.3" fill="none" stroke="#c6a058" stroke-width="5.1"/>
<circle cx="239.44" cy="365.51" r="7.3" fill="none" stroke="#c6a058" stroke-width="5.1"/>
<circle cx="265.33" cy="365.51" r="7.3" fill="none" stroke="#c6a058" stroke-width="5.1"/>
<circle cx="291.22" cy="365.51" r="7.3" fill="none" stroke="#c6a058" stroke-width="5.1"/>
<circle cx="317.11" cy="365.51" r="7.3" fill="none" stroke="#c6a058" stroke-width="5.1"/>
<circle cx="343.00" cy="365.51" r="7.3" fill="none" stroke="#c6a058" stroke-width="5.1"/>
<circle cx="368.89" cy="365.51" r="7.3" fill="none" stroke="#c6a058" stroke-width="5.1"/>
<circle cx="394.78" cy="365.51" r="7.3" fill="none" stroke="#c6a058" stroke-width="5.1"/>
<circle cx="420.67" cy="365.51" r="7.3" fill="none" stroke="#c6a058" stroke-width="5.1"/>
<circle cx="446.56" cy="365.51" r="7.3" fill="none" stroke="#c6a058" stroke-width="5.1"/>
<circle cx="472.45" cy="365.51" r="7.3" fill="none" stroke="#c6a058" stroke-width="5.1"/>
<circle cx="498.34" cy="365.51" r="7.3" fill="none" stroke="#c6a058" stroke-width="5.1"/>
<circle cx="524.23" cy="365.51" r="7.3" fill="none" stroke="#c6a058" stroke-width="5.1"/>
<rect x="149.0" y="72.72" width="8.80" height="67.28" fill="#3c3c3c"/>
<rect x="93.0" y="72.72" width="57.00" height="67.28" fill="#000"/>
<rect x="153.2" y="77.62" width="9" height="6.6" fill="#55b055"/>
<rect x="153.2" y="103.51" width="9" height="6.6" fill="#55b055"/>
<rect x="153.2" y="129.40" width="9" height="6.6" fill="#55b055"/>
<clipPath id="c0"><rect x="93.0" y="72.72" width="57.00" height="67.28"/></clipPath>
<g clip-path="url(#c0)">
<text transform="translate(127 134.00) rotate(-90)" font-family="'Liberation Sans',sans-serif" font-size="19.3" fill="#fff">3 pin js</text>
<circle cx="105.6" cy="85.92" r="7.6" fill="#8a8a8a"/>
<text transform="translate(109.9 86.12) rotate(-90) scale(1.3 1)" font-family="'Liberation Sans',sans-serif" font-weight="bold" font-size="13" fill="#fff" stroke="#fff" stroke-width="0.5" text-anchor="middle">?</text>
</g>
<rect x="149.0" y="176.28" width="8.80" height="67.28" fill="#3c3c3c"/>
<rect x="93.0" y="176.28" width="57.00" height="67.28" fill="#000"/>
<rect x="153.2" y="181.18" width="9" height="6.6" fill="#55b055"/>
<rect x="153.2" y="207.07" width="9" height="6.6" fill="#55b055"/>
<rect x="153.2" y="232.96" width="9" height="6.6" fill="#55b055"/>
<clipPath id="c4"><rect x="93.0" y="176.28" width="57.00" height="67.28"/></clipPath>
<g clip-path="url(#c4)">
<text transform="translate(127 237.56) rotate(-90)" font-family="'Liberation Sans',sans-serif" font-size="19.3" fill="#fff">3 pin js</text>
<circle cx="105.6" cy="189.48" r="7.6" fill="#8a8a8a"/>
<text transform="translate(109.9 189.68) rotate(-90) scale(1.3 1)" font-family="'Liberation Sans',sans-serif" font-weight="bold" font-size="13" fill="#fff" stroke="#fff" stroke-width="0.5" text-anchor="middle">?</text>
</g>
<rect x="149.0" y="305.73" width="8.80" height="67.28" fill="#3c3c3c"/>
<rect x="93.0" y="305.73" width="57.00" height="67.28" fill="#000"/>
<rect x="153.2" y="310.63" width="9" height="6.6" fill="#55b055"/>
<rect x="153.2" y="336.52" width="9" height="6.6" fill="#55b055"/>
<rect x="153.2" y="362.41" width="9" height="6.6" fill="#55b055"/>
<clipPath id="c9"><rect x="93.0" y="305.73" width="57.00" height="67.28"/></clipPath>
<g clip-path="url(#c9)">
<text transform="translate(127 367.01) rotate(-90)" font-family="'Liberation Sans',sans-serif" font-size="19.3" fill="#fff">3 pin js</text>
<circle cx="105.6" cy="318.93" r="7.6" fill="#8a8a8a"/>
<text transform="translate(109.9 319.13) rotate(-90) scale(1.3 1)" font-family="'Liberation Sans',sans-serif" font-weight="bold" font-size="13" fill="#fff" stroke="#fff" stroke-width="0.5" text-anchor="middle">?</text>
</g>
<rect x="252.53" y="119.70" width="25.6" height="206.83" fill="#404040"/>
<path d="M256.33000000000004 123.5L274.33000000000004 123.5L265.33000000000004 132.5z" fill="#373737"/>
<path d="M274.33000000000004 123.5L274.33000000000004 141.5L265.33000000000004 132.5z" fill="#2e2e2e"/>
<path d="M274.33000000000004 141.5L256.33000000000004 141.5L265.33000000000004 132.5z" fill="#4d4d4d"/>
<path d="M256.33000000000004 141.5L256.33000000000004 123.5L265.33000000000004 132.5z" fill="#555"/>
<rect x="260.83000000000004" y="128.0" width="9" height="9" fill="#1a1a1a"/>
<path d="M256.33000000000004 149.39L274.33000000000004 149.39L265.33000000000004 158.39z" fill="#373737"/>
<path d="M274.33000000000004 149.39L274.33000000000004 167.39L265.33000000000004 158.39z" fill="#2e2e2e"/>
<path d="M274.33000000000004 167.39L256.33000000000004 167.39L265.33000000000004 158.39z" fill="#4d4d4d"/>
<path d="M256.33000000000004 167.39L256.33000000000004 149.39L265.33000000000004 158.39z" fill="#555"/>
<rect x="260.83000000000004" y="153.89" width="9" height="9" fill="#1a1a1a"/>
<path d="M256.33000000000004 175.28L274.33000000000004 175.28L265.33000000000004 184.28z" fill="#373737"/>
<path d="M274.33000000000004 175.28L274.33000000000004 193.28L265.33000000000004 184.28z" fill="#2e2e2e"/>
<path d="M274.33000000000004 193.28L256.33000000000004 193.28L265.33000000000004 184.28z" fill="#4d4d4d"/>
<path d="M256.33000000000004 193.28L256.33000000000004 175.28L265.33000000000004 184.28z" fill="#555"/>
<rect x="260.83000000000004" y="179.78" width="9" height="9" fill="#1a1a1a"/>
<path d="M256.33000000000004 201.17L274.33000000000004 201.17L265.33000000000004 210.17z" fill="#373737"/>
<path d="M274.33000000000004 201.17L274.33000000000004 219.17L265.33000000000004 210.17z" fill="#2e2e2e"/>
<path d="M274.33000000000004 219.17L256.33000000000004 219.17L265.33000000000004 210.17z" fill="#4d4d4d"/>
<path d="M256.33000000000004 219.17L256.33000000000004 201.17L265.33000000000004 210.17z" fill="#555"/>
<rect x="260.83000000000004" y="205.67" width="9" height="9" fill="#1a1a1a"/>
<path d="M256.33000000000004 227.06L274.33000000000004 227.06L265.33000000000004 236.06z" fill="#373737"/>
<path d="M274.33000000000004 227.06L274.33000000000004 245.06L265.33000000000004 236.06z" fill="#2e2e2e"/>
<path d="M274.33000000000004 245.06L256.33000000000004 245.06L265.33000000000004 236.06z" fill="#4d4d4d"/>
<path d="M256.33000000000004 245.06L256.33000000000004 227.06L265.33000000000004 236.06z" fill="#555"/>
<rect x="260.83000000000004" y="231.56" width="9" height="9" fill="#1a1a1a"/>
<path d="M256.33000000000004 252.95000000000005L274.33000000000004 252.95000000000005L265.33000000000004 261.95000000000005z" fill="#373737"/>
<path d="M274.33000000000004 252.95000000000005L274.33000000000004 270.95000000000005L265.33000000000004 261.95000000000005z" fill="#2e2e2e"/>
<path d="M274.33000000000004 270.95000000000005L256.33000000000004 270.95000000000005L265.33000000000004 261.95000000000005z" fill="#4d4d4d"/>
<path d="M256.33000000000004 270.95000000000005L256.33000000000004 252.95000000000005L265.33000000000004 261.95000000000005z" fill="#555"/>
<rect x="260.83000000000004" y="257.45000000000005" width="9" height="9" fill="#1a1a1a"/>
<path d="M256.33000000000004 278.84000000000003L274.33000000000004 278.84000000000003L265.33000000000004 287.84000000000003z" fill="#373737"/>
<path d="M274.33000000000004 278.84000000000003L274.33000000000004 296.84000000000003L265.33000000000004 287.84000000000003z" fill="#2e2e2e"/>
<path d="M274.33000000000004 296.84000000000003L256.33000000000004 296.84000000000003L265.33000000000004 287.84000000000003z" fill="#4d4d4d"/>
<path d="M256.33000000000004 296.84000000000003L256.33000000000004 278.84000000000003L265.33000000000004 287.84000000000003z" fill="#555"/>
<rect x="260.83000000000004" y="283.34000000000003" width="9" height="9" fill="#1a1a1a"/>
<path d="M256.33000000000004 304.73L274.33000000000004 304.73L265.33000000000004 313.73z" fill="#373737"/>
<path d="M274.33000000000004 304.73L274.33000000000004 322.73L265.33000000000004 313.73z" fill="#2e2e2e"/>
<path d="M274.33000000000004 322.73L256.33000000000004 322.73L265.33000000000004 313.73z" fill="#4d4d4d"/>
<path d="M256.33000000000004 322.73L256.33000000000004 304.73L265.33000000000004 313.73z" fill="#555"/>
<rect x="260.83000000000004" y="309.23" width="9" height="9" fill="#1a1a1a"/>
<rect x="330.20" y="145.59" width="25.6" height="180.94" fill="#404040"/>
<path d="M334.0 149.39L352.0 149.39L343.0 158.39z" fill="#373737"/>
<path d="M352.0 149.39L352.0 167.39L343.0 158.39z" fill="#2e2e2e"/>
<path d="M352.0 167.39L334.0 167.39L343.0 158.39z" fill="#4d4d4d"/>
<path d="M334.0 167.39L334.0 149.39L343.0 158.39z" fill="#555"/>
<rect x="338.5" y="153.89" width="9" height="9" fill="#1a1a1a"/>
<path d="M334.0 175.28L352.0 175.28L343.0 184.28z" fill="#373737"/>
<path d="M352.0 175.28L352.0 193.28L343.0 184.28z" fill="#2e2e2e"/>
<path d="M352.0 193.28L334.0 193.28L343.0 184.28z" fill="#4d4d4d"/>
<path d="M334.0 193.28L334.0 175.28L343.0 184.28z" fill="#555"/>
<rect x="338.5" y="179.78" width="9" height="9" fill="#1a1a1a"/>
<path d="M334.0 201.17L352.0 201.17L343.0 210.17z" fill="#373737"/>
<path d="M352.0 201.17L352.0 219.17L343.0 210.17z" fill="#2e2e2e"/>
<path d="M352.0 219.17L334.0 219.17L343.0 210.17z" fill="#4d4d4d"/>
<path d="M334.0 219.17L334.0 201.17L343.0 210.17z" fill="#555"/>
<rect x="338.5" y="205.67" width="9" height="9" fill="#1a1a1a"/>
<path d="M334.0 227.06L352.0 227.06L343.0 236.06z" fill="#373737"/>
<path d="M352.0 227.06L352.0 245.06L343.0 236.06z" fill="#2e2e2e"/>
<path d="M352.0 245.06L334.0 245.06L343.0 236.06z" fill="#4d4d4d"/>
<path d="M334.0 245.06L334.0 227.06L343.0 236.06z" fill="#555"/>
<rect x="338.5" y="231.56" width="9" height="9" fill="#1a1a1a"/>
<path d="M334.0 252.95000000000005L352.0 252.95000000000005L343.0 261.95000000000005z" fill="#373737"/>
<path d="M352.0 252.95000000000005L352.0 270.95000000000005L343.0 261.95000000000005z" fill="#2e2e2e"/>
<path d="M352.0 270.95000000000005L334.0 270.95000000000005L343.0 261.95000000000005z" fill="#4d4d4d"/>
<path d="M334.0 270.95000000000005L334.0 252.95000000000005L343.0 261.95000000000005z" fill="#555"/>
<rect x="338.5" y="257.45000000000005" width="9" height="9" fill="#1a1a1a"/>
<path d="M334.0 278.84000000000003L352.0 278.84000000000003L343.0 287.84000000000003z" fill="#373737"/>
<path d="M352.0 278.84000000000003L352.0 296.84000000000003L343.0 287.84000000000003z" fill="#2e2e2e"/>
<path d="M352.0 296.84000000000003L334.0 296.84000000000003L343.0 287.84000000000003z" fill="#4d4d4d"/>
<path d="M334.0 296.84000000000003L334.0 278.84000000000003L343.0 287.84000000000003z" fill="#555"/>
<rect x="338.5" y="283.34000000000003" width="9" height="9" fill="#1a1a1a"/>
<path d="M334.0 304.73L352.0 304.73L343.0 313.73z" fill="#373737"/>
<path d="M352.0 304.73L352.0 322.73L343.0 313.73z" fill="#2e2e2e"/>
<path d="M352.0 322.73L334.0 322.73L343.0 313.73z" fill="#4d4d4d"/>
<path d="M334.0 322.73L334.0 304.73L343.0 313.73z" fill="#555"/>
<rect x="338.5" y="309.23" width="9" height="9" fill="#1a1a1a"/>
<rect x="472.6" y="145.39" width="8.4" height="3" fill="#1f4f8f"/>
<rect x="462.3" y="146.29" width="22.10" height="50.39" fill="#224f90"/>
<rect x="484.4" y="146.29" width="18.30" height="50.39" fill="#15406f"/>
<rect x="484.0" y="146.29" width="0.8" height="50.39" fill="#1c4a85"/>
<rect x="472.6" y="195.98" width="8.4" height="0.9" fill="#caa866"/>
<circle cx="473.9" cy="157.99" r="7.5" fill="#3a3a3a"/>
<path d="M475.4 150.99a7.5 7.5 0 0 1 0 14a9.5 9.5 0 0 0 0 -14z" fill="#a9a9a9"/>
<rect x="486.8" y="150.19" width="14.20" height="16.80" fill="#9c9c9c"/>
<path d="M486.8 150.19L501.0 150.19L498.6 152.79L489.4 152.79L489.4 164.39L486.8 166.99z" fill="#acacac"/>
<path d="M501.0 166.99L486.8 166.99L489.4 164.39L498.6 164.39L498.6 152.79L501.0 150.19z" fill="#8a8a8a"/>
<rect x="489.4" y="152.79" width="9.20" height="11.60" fill="#969696"/>
<path d="M490.1 153.39h3a5.4 5.4 0 0 1 0 10.8h-3z" fill="#2d2d2d"/>
<rect x="498.4" y="154.49" width="7.8" height="8.0" fill="#8f8f8f"/>
<rect x="490.1" y="153.99" width="16.1" height="8.9" fill="rgba(30,200,30,0.36)" stroke="rgba(60,200,60,0.45)" stroke-width="0.8"/>
<circle cx="473.9" cy="183.88" r="7.5" fill="#3a3a3a"/>
<path d="M475.4 176.88a7.5 7.5 0 0 1 0 14a9.5 9.5 0 0 0 0 -14z" fill="#a9a9a9"/>
<rect x="486.8" y="176.08" width="14.20" height="16.80" fill="#9c9c9c"/>
<path d="M486.8 176.08L501.0 176.08L498.6 178.68L489.4 178.68L489.4 190.28L486.8 192.88z" fill="#acacac"/>
<path d="M501.0 192.88L486.8 192.88L489.4 190.28L498.6 190.28L498.6 178.68L501.0 176.08z" fill="#8a8a8a"/>
<rect x="489.4" y="178.68" width="9.20" height="11.60" fill="#969696"/>
<path d="M490.1 179.28h3a5.4 5.4 0 0 1 0 10.8h-3z" fill="#2d2d2d"/>
<rect x="498.4" y="180.38" width="7.8" height="8.0" fill="#8f8f8f"/>
<rect x="490.1" y="179.88" width="16.1" height="8.9" fill="rgba(30,200,30,0.36)" stroke="rgba(60,200,60,0.45)" stroke-width="0.8"/>
<rect x="472.6" y="248.95" width="8.4" height="3" fill="#1f4f8f"/>
<rect x="462.3" y="249.85" width="22.10" height="50.39" fill="#224f90"/>
<rect x="484.4" y="249.85" width="18.30" height="50.39" fill="#15406f"/>
<rect x="484.0" y="249.85" width="0.8" height="50.39" fill="#1c4a85"/>
<rect x="472.6" y="299.54" width="8.4" height="0.9" fill="#caa866"/>
<circle cx="473.9" cy="261.55" r="7.5" fill="#3a3a3a"/>
<path d="M475.4 254.55a7.5 7.5 0 0 1 0 14a9.5 9.5 0 0 0 0 -14z" fill="#a9a9a9"/>
<rect x="486.8" y="253.75" width="14.20" height="16.80" fill="#9c9c9c"/>
<path d="M486.8 253.75L501.0 253.75L498.6 256.35L489.4 256.35L489.4 267.95L486.8 270.55z" fill="#acacac"/>
<path d="M501.0 270.55L486.8 270.55L489.4 267.95L498.6 267.95L498.6 256.35L501.0 253.75z" fill="#8a8a8a"/>
<rect x="489.4" y="256.35" width="9.20" height="11.60" fill="#969696"/>
<path d="M490.1 256.95h3a5.4 5.4 0 0 1 0 10.8h-3z" fill="#2d2d2d"/>
<rect x="498.4" y="258.05" width="7.8" height="8.0" fill="#8f8f8f"/>
<rect x="490.1" y="257.55" width="16.1" height="8.9" fill="rgba(30,200,30,0.36)" stroke="rgba(60,200,60,0.45)" stroke-width="0.8"/>
<circle cx="473.9" cy="287.44" r="7.5" fill="#3a3a3a"/>
<path d="M475.4 280.44a7.5 7.5 0 0 1 0 14a9.5 9.5 0 0 0 0 -14z" fill="#a9a9a9"/>
<rect x="486.8" y="279.64" width="14.20" height="16.80" fill="#9c9c9c"/>
<path d="M486.8 279.64L501.0 279.64L498.6 282.24L489.4 282.24L489.4 293.84L486.8 296.44z" fill="#acacac"/>
<path d="M501.0 296.44L486.8 296.44L489.4 293.84L498.6 293.84L498.6 282.24L501.0 279.64z" fill="#8a8a8a"/>
<rect x="489.4" y="282.24" width="9.20" height="11.60" fill="#969696"/>
<path d="M490.1 282.84h3a5.4 5.4 0 0 1 0 10.8h-3z" fill="#2d2d2d"/>
<rect x="498.4" y="283.94" width="7.8" height="8.0" fill="#8f8f8f"/>
<rect x="490.1" y="283.44" width="16.1" height="8.9" fill="rgba(30,200,30,0.36)" stroke="rgba(60,200,60,0.45)" stroke-width="0.8"/>
<line x1="343.00" y1="184.28" x2="317.11" y2="210.17" stroke="#8c0000" stroke-width="11.3" stroke-linecap="round"/>
<line x1="343.00" y1="184.28" x2="317.11" y2="210.17" stroke="#cc1414" stroke-width="5.9" stroke-linecap="round"/>
<line x1="317.11" y1="210.17" x2="291.22" y2="261.95" stroke="#8c0000" stroke-width="11.3" stroke-linecap="round"/>
<line x1="317.11" y1="210.17" x2="291.22" y2="261.95" stroke="#cc1414" stroke-width="5.9" stroke-linecap="round"/>
<line x1="291.22" y1="261.95" x2="291.22" y2="365.51" stroke="#8c0000" stroke-width="11.3" stroke-linecap="round"/>
<line x1="291.22" y1="261.95" x2="291.22" y2="365.51" stroke="#cc1414" stroke-width="5.9" stroke-linecap="round"/>
<line x1="291.22" y1="365.51" x2="161.77" y2="365.51" stroke="#8c0000" stroke-width="11.3" stroke-linecap="round"/>
<line x1="291.22" y1="365.51" x2="161.77" y2="365.51" stroke="#cc1414" stroke-width="5.9" stroke-linecap="round"/>
<circle cx="317.11" cy="210.17" r="6.5" fill="#8c0000"/>
<circle cx="291.22" cy="261.95" r="6.5" fill="#8c0000"/>
<circle cx="291.22" cy="365.51" r="6.5" fill="#8c0000"/>
<circle cx="343.00" cy="184.28" r="6.4" fill="rgba(0,255,0,0.2)" stroke="rgba(0,190,0,0.4)" stroke-width="1"/>
<circle cx="161.77" cy="365.51" r="6.4" fill="rgba(0,255,0,0.2)" stroke="rgba(0,190,0,0.4)" stroke-width="1"/>
<line x1="265.33" y1="132.50" x2="239.44" y2="158.39" stroke="#000000" stroke-width="11.3" stroke-linecap="round"/>
<line x1="265.33" y1="132.50" x2="239.44" y2="158.39" stroke="#404040" stroke-width="5.9" stroke-linecap="round"/>
<line x1="239.44" y1="158.39" x2="239.44" y2="287.84" stroke="#000000" stroke-width="11.3" stroke-linecap="round"/>
<line x1="239.44" y1="158.39" x2="239.44" y2="287.84" stroke="#404040" stroke-width="5.9" stroke-linecap="round"/>
<line x1="239.44" y1="287.84" x2="161.77" y2="339.62" stroke="#000000" stroke-width="11.3" stroke-linecap="round"/>
<line x1="239.44" y1="287.84" x2="161.77" y2="339.62" stroke="#404040" stroke-width="5.9" stroke-linecap="round"/>
<circle cx="239.44" cy="158.39" r="6.5" fill="#000000"/>
<circle cx="239.44" cy="287.84" r="6.5" fill="#000000"/>
<circle cx="265.33" cy="132.50" r="6.4" fill="rgba(0,255,0,0.2)" stroke="rgba(0,190,0,0.4)" stroke-width="1"/>
<circle cx="161.77" cy="339.62" r="6.4" fill="rgba(0,255,0,0.2)" stroke="rgba(0,190,0,0.4)" stroke-width="1"/>
<line x1="265.33" y1="313.73" x2="161.77" y2="339.62" stroke="#000000" stroke-width="11.3" stroke-linecap="round"/>
<line x1="265.33" y1="313.73" x2="161.77" y2="339.62" stroke="#404040" stroke-width="5.9" stroke-linecap="round"/>
<circle cx="265.33" cy="313.73" r="6.4" fill="rgba(0,255,0,0.2)" stroke="rgba(0,190,0,0.4)" stroke-width="1"/>
<circle cx="161.77" cy="339.62" r="6.4" fill="rgba(0,255,0,0.2)" stroke="rgba(0,190,0,0.4)" stroke-width="1"/>
<line x1="343.00" y1="236.06" x2="317.11" y2="261.95" stroke="#000000" stroke-width="11.3" stroke-linecap="round"/>
<line x1="343.00" y1="236.06" x2="317.11" y2="261.95" stroke="#404040" stroke-width="5.9" stroke-linecap="round"/>
<line x1="317.11" y1="261.95" x2="317.11" y2="339.62" stroke="#000000" stroke-width="11.3" stroke-linecap="round"/>
<line x1="317.11" y1="261.95" x2="317.11" y2="339.62" stroke="#404040" stroke-width="5.9" stroke-linecap="round"/>
<line x1="317.11" y1="339.62" x2="161.77" y2="339.62" stroke="#000000" stroke-width="11.3" stroke-linecap="round"/>
<line x1="317.11" y1="339.62" x2="161.77" y2="339.62" stroke="#404040" stroke-width="5.9" stroke-linecap="round"/>
<circle cx="317.11" cy="261.95" r="6.5" fill="#000000"/>
<circle cx="317.11" cy="339.62" r="6.5" fill="#000000"/>
<circle cx="343.00" cy="236.06" r="6.4" fill="rgba(0,255,0,0.2)" stroke="rgba(0,190,0,0.4)" stroke-width="1"/>
<circle cx="161.77" cy="339.62" r="6.4" fill="rgba(0,255,0,0.2)" stroke="rgba(0,190,0,0.4)" stroke-width="1"/>
<line x1="161.77" y1="236.06" x2="187.66" y2="236.06" stroke="#666666" stroke-width="11.3" stroke-linecap="round"/>
<line x1="161.77" y1="236.06" x2="187.66" y2="236.06" stroke="#999999" stroke-width="5.9" stroke-linecap="round"/>
<line x1="187.66" y1="236.06" x2="317.11" y2="261.95" stroke="#666666" stroke-width="11.3" stroke-linecap="round"/>
<line x1="187.66" y1="236.06" x2="317.11" y2="261.95" stroke="#999999" stroke-width="5.9" stroke-linecap="round"/>
<line x1="317.11" y1="261.95" x2="343.00" y2="287.84" stroke="#666666" stroke-width="11.3" stroke-linecap="round"/>
<line x1="317.11" y1="261.95" x2="343.00" y2="287.84" stroke="#999999" stroke-width="5.9" stroke-linecap="round"/>
<circle cx="187.66" cy="236.06" r="6.5" fill="#666666"/>
<circle cx="317.11" cy="261.95" r="6.5" fill="#666666"/>
<circle cx="161.77" cy="236.06" r="6.4" fill="rgba(0,255,0,0.2)" stroke="rgba(0,190,0,0.4)" stroke-width="1"/>
<circle cx="343.00" cy="287.84" r="6.4" fill="rgba(0,255,0,0.2)" stroke="rgba(0,190,0,0.4)" stroke-width="1"/>
<line x1="161.77" y1="210.17" x2="187.66" y2="210.17" stroke="#666666" stroke-width="11.3" stroke-linecap="round"/>
<line x1="161.77" y1="210.17" x2="187.66" y2="210.17" stroke="#999999" stroke-width="5.9" stroke-linecap="round"/>
<line x1="187.66" y1="210.17" x2="317.11" y2="236.06" stroke="#666666" stroke-width="11.3" stroke-linecap="round"/>
<line x1="187.66" y1="210.17" x2="317.11" y2="236.06" stroke="#999999" stroke-width="5.9" stroke-linecap="round"/>
<line x1="317.11" y1="236.06" x2="343.00" y2="261.95" stroke="#666666" stroke-width="11.3" stroke-linecap="round"/>
<line x1="317.11" y1="236.06" x2="343.00" y2="261.95" stroke="#999999" stroke-width="5.9" stroke-linecap="round"/>
<circle cx="187.66" cy="210.17" r="6.5" fill="#666666"/>
<circle cx="317.11" cy="236.06" r="6.5" fill="#666666"/>
<circle cx="161.77" cy="210.17" r="6.4" fill="rgba(0,255,0,0.2)" stroke="rgba(0,190,0,0.4)" stroke-width="1"/>
<circle cx="343.00" cy="261.95" r="6.4" fill="rgba(0,255,0,0.2)" stroke="rgba(0,190,0,0.4)" stroke-width="1"/>
<line x1="161.77" y1="313.73" x2="265.33" y2="236.06" stroke="#8c0000" stroke-width="11.3" stroke-linecap="round"/>
<line x1="161.77" y1="313.73" x2="265.33" y2="236.06" stroke="#cc1414" stroke-width="5.9" stroke-linecap="round"/>
<circle cx="161.77" cy="313.73" r="6.4" fill="rgba(0,255,0,0.2)" stroke="rgba(0,190,0,0.4)" stroke-width="1"/>
<circle cx="265.33" cy="236.06" r="6.4" fill="rgba(0,255,0,0.2)" stroke="rgba(0,190,0,0.4)" stroke-width="1"/>
<line x1="161.77" y1="184.28" x2="187.66" y2="184.28" stroke="#666666" stroke-width="11.3" stroke-linecap="round"/>
<line x1="161.77" y1="184.28" x2="187.66" y2="184.28" stroke="#999999" stroke-width="5.9" stroke-linecap="round"/>
<line x1="187.66" y1="184.28" x2="265.33" y2="261.95" stroke="#666666" stroke-width="11.3" stroke-linecap="round"/>
<line x1="187.66" y1="184.28" x2="265.33" y2="261.95" stroke="#999999" stroke-width="5.9" stroke-linecap="round"/>
<circle cx="187.66" cy="184.28" r="6.5" fill="#666666"/>
<circle cx="161.77" cy="184.28" r="6.4" fill="rgba(0,255,0,0.2)" stroke="rgba(0,190,0,0.4)" stroke-width="1"/>
<circle cx="265.33" cy="261.95" r="6.4" fill="rgba(0,255,0,0.2)" stroke="rgba(0,190,0,0.4)" stroke-width="1"/>
<line x1="343.00" y1="158.39" x2="368.89" y2="106.61" stroke="#1b5bb3" stroke-width="11.3" stroke-linecap="round"/>
<line x1="343.00" y1="158.39" x2="368.89" y2="106.61" stroke="#418dd9" stroke-width="5.9" stroke-linecap="round"/>
<line x1="368.89" y1="106.61" x2="472.45" y2="158.39" stroke="#1b5bb3" stroke-width="11.3" stroke-linecap="round"/>
<line x1="368.89" y1="106.61" x2="472.45" y2="158.39" stroke="#418dd9" stroke-width="5.9" stroke-linecap="round"/>
<circle cx="368.89" cy="106.61" r="6.5" fill="#1b5bb3"/>
<circle cx="343.00" cy="158.39" r="6.4" fill="rgba(0,255,0,0.2)" stroke="rgba(0,190,0,0.4)" stroke-width="1"/>
<circle cx="472.45" cy="158.39" r="6.4" fill="rgba(0,255,0,0.2)" stroke="rgba(0,190,0,0.4)" stroke-width="1"/>
<line x1="265.33" y1="158.39" x2="291.22" y2="106.61" stroke="#1b5bb3" stroke-width="11.3" stroke-linecap="round"/>
<line x1="265.33" y1="158.39" x2="291.22" y2="106.61" stroke="#418dd9" stroke-width="5.9" stroke-linecap="round"/>
<line x1="291.22" y1="106.61" x2="472.45" y2="184.28" stroke="#1b5bb3" stroke-width="11.3" stroke-linecap="round"/>
<line x1="291.22" y1="106.61" x2="472.45" y2="184.28" stroke="#418dd9" stroke-width="5.9" stroke-linecap="round"/>
<circle cx="291.22" cy="106.61" r="6.5" fill="#1b5bb3"/>
<circle cx="265.33" cy="158.39" r="6.4" fill="rgba(0,255,0,0.2)" stroke="rgba(0,190,0,0.4)" stroke-width="1"/>
<circle cx="472.45" cy="184.28" r="6.4" fill="rgba(0,255,0,0.2)" stroke="rgba(0,190,0,0.4)" stroke-width="1"/>
<line x1="265.33" y1="287.84" x2="343.00" y2="365.51" stroke="#1b5bb3" stroke-width="11.3" stroke-linecap="round"/>
<line x1="265.33" y1="287.84" x2="343.00" y2="365.51" stroke="#418dd9" stroke-width="5.9" stroke-linecap="round"/>
<line x1="343.00" y1="365.51" x2="394.78" y2="365.51" stroke="#1b5bb3" stroke-width="11.3" stroke-linecap="round"/>
<line x1="343.00" y1="365.51" x2="394.78" y2="365.51" stroke="#418dd9" stroke-width="5.9" stroke-linecap="round"/>
<line x1="394.78" y1="365.51" x2="472.45" y2="287.84" stroke="#1b5bb3" stroke-width="11.3" stroke-linecap="round"/>
<line x1="394.78" y1="365.51" x2="472.45" y2="287.84" stroke="#418dd9" stroke-width="5.9" stroke-linecap="round"/>
<circle cx="343.00" cy="365.51" r="6.5" fill="#1b5bb3"/>
<circle cx="394.78" cy="365.51" r="6.5" fill="#1b5bb3"/>
<circle cx="265.33" cy="287.84" r="6.4" fill="rgba(0,255,0,0.2)" stroke="rgba(0,190,0,0.4)" stroke-width="1"/>
<circle cx="472.45" cy="287.84" r="6.4" fill="rgba(0,255,0,0.2)" stroke="rgba(0,190,0,0.4)" stroke-width="1"/>
<line x1="343.00" y1="313.73" x2="368.89" y2="339.62" stroke="#1b5bb3" stroke-width="11.3" stroke-linecap="round"/>
<line x1="343.00" y1="313.73" x2="368.89" y2="339.62" stroke="#418dd9" stroke-width="5.9" stroke-linecap="round"/>
<line x1="368.89" y1="339.62" x2="394.78" y2="339.62" stroke="#1b5bb3" stroke-width="11.3" stroke-linecap="round"/>
<line x1="368.89" y1="339.62" x2="394.78" y2="339.62" stroke="#418dd9" stroke-width="5.9" stroke-linecap="round"/>
<line x1="394.78" y1="339.62" x2="472.45" y2="261.95" stroke="#1b5bb3" stroke-width="11.3" stroke-linecap="round"/>
<line x1="394.78" y1="339.62" x2="472.45" y2="261.95" stroke="#418dd9" stroke-width="5.9" stroke-linecap="round"/>
<circle cx="368.89" cy="339.62" r="6.5" fill="#1b5bb3"/>
<circle cx="394.78" cy="339.62" r="6.5" fill="#1b5bb3"/>
<circle cx="343.00" cy="313.73" r="6.4" fill="rgba(0,255,0,0.2)" stroke="rgba(0,190,0,0.4)" stroke-width="1"/>
<circle cx="472.45" cy="261.95" r="6.4" fill="rgba(0,255,0,0.2)" stroke="rgba(0,190,0,0.4)" stroke-width="1"/>
<line x1="161.77" y1="80.72" x2="291.22" y2="80.72" stroke="#e6ab00" stroke-width="11.3" stroke-linecap="round"/>
<line x1="161.77" y1="80.72" x2="291.22" y2="80.72" stroke="#ffe24d" stroke-width="5.9" stroke-linecap="round"/>
<line x1="291.22" y1="80.72" x2="317.11" y2="184.28" stroke="#e6ab00" stroke-width="11.3" stroke-linecap="round"/>
<line x1="291.22" y1="80.72" x2="317.11" y2="184.28" stroke="#ffe24d" stroke-width="5.9" stroke-linecap="round"/>
<line x1="317.11" y1="184.28" x2="343.00" y2="210.17" stroke="#e6ab00" stroke-width="11.3" stroke-linecap="round"/>
<line x1="317.11" y1="184.28" x2="343.00" y2="210.17" stroke="#ffe24d" stroke-width="5.9" stroke-linecap="round"/>
<circle cx="291.22" cy="80.72" r="6.5" fill="#e6ab00"/>
<circle cx="317.11" cy="184.28" r="6.5" fill="#e6ab00"/>
<circle cx="161.77" cy="80.72" r="6.4" fill="rgba(0,255,0,0.2)" stroke="rgba(0,190,0,0.4)" stroke-width="1"/>
<circle cx="343.00" cy="210.17" r="6.4" fill="rgba(0,255,0,0.2)" stroke="rgba(0,190,0,0.4)" stroke-width="1"/>
<line x1="161.77" y1="106.61" x2="213.55" y2="158.39" stroke="#e6ab00" stroke-width="11.3" stroke-linecap="round"/>
<line x1="161.77" y1="106.61" x2="213.55" y2="158.39" stroke="#ffe24d" stroke-width="5.9" stroke-linecap="round"/>
<line x1="213.55" y1="158.39" x2="265.33" y2="184.28" stroke="#e6ab00" stroke-width="11.3" stroke-linecap="round"/>
<line x1="213.55" y1="158.39" x2="265.33" y2="184.28" stroke="#ffe24d" stroke-width="5.9" stroke-linecap="round"/>
<circle cx="213.55" cy="158.39" r="6.5" fill="#e6ab00"/>
<circle cx="161.77" cy="106.61" r="6.4" fill="rgba(0,255,0,0.2)" stroke="rgba(0,190,0,0.4)" stroke-width="1"/>
<circle cx="265.33" cy="184.28" r="6.4" fill="rgba(0,255,0,0.2)" stroke="rgba(0,190,0,0.4)" stroke-width="1"/>
<line x1="161.77" y1="132.50" x2="213.55" y2="184.28" stroke="#e6ab00" stroke-width="11.3" stroke-linecap="round"/>
<line x1="161.77" y1="132.50" x2="213.55" y2="184.28" stroke="#ffe24d" stroke-width="5.9" stroke-linecap="round"/>
<line x1="213.55" y1="184.28" x2="265.33" y2="210.17" stroke="#e6ab00" stroke-width="11.3" stroke-linecap="round"/>
<line x1="213.55" y1="184.28" x2="265.33" y2="210.17" stroke="#ffe24d" stroke-width="5.9" stroke-linecap="round"/>
<circle cx="213.55" cy="184.28" r="6.5" fill="#e6ab00"/>
<circle cx="161.77" cy="132.50" r="6.4" fill="rgba(0,255,0,0.2)" stroke="rgba(0,190,0,0.4)" stroke-width="1"/>
<circle cx="265.33" cy="210.17" r="6.4" fill="rgba(0,255,0,0.2)" stroke="rgba(0,190,0,0.4)" stroke-width="1"/>
</g></svg>
</body></html>
